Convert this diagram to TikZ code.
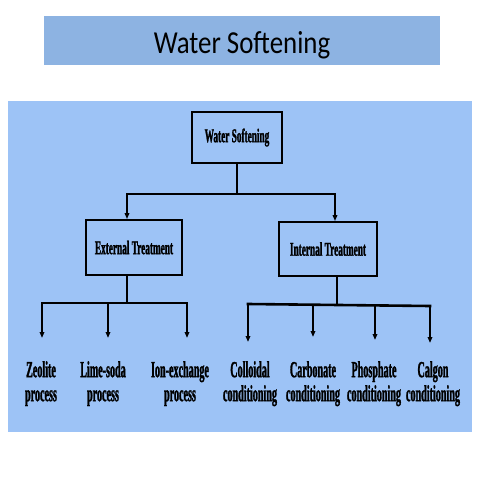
\documentclass[tikz,border=0pt]{standalone}
\usepackage{fontspec}
\usetikzlibrary{arrows.meta}
\newfontfamily\lblfont[FakeStretch=0.44,FakeBold=1.2]{Liberation Serif}
\newfontfamily\boxfont[FakeStretch=0.475,FakeBold=1.2]{Liberation Serif}
\newfontfamily\ttlfont[FakeStretch=0.84]{Carlito}
\definecolor{bannerblue}{HTML}{8DB3E2}
\definecolor{panelblue}{HTML}{9DC3F6}
\begin{document}
\begin{tikzpicture}[x=1pt,y=-1pt,
  banner/.style={fill=bannerblue, inner sep=0, minimum width=396pt, minimum height=49pt,
    text height=29pt, text depth=3pt, font=\ttlfont\fontsize{32}{32}\selectfont},
  box/.style={draw=black, line width=1.8pt, inner sep=0,
    font=\boxfont\bfseries\fontsize{19.5}{21}\selectfont},
  conn/.style={draw=black, line width=1.8pt},
  bar/.style={draw=black, line width=2.6pt, line cap=rect},
  arr/.style={draw=black, line width=1.6pt, -{Triangle[length=6pt,width=4.5pt]}},
  lbl/.style={inner sep=0, align=center, anchor=north,
    font=\lblfont\bfseries\fontsize{23}{24}\selectfont}]
\useasboundingbox (0,0) rectangle (480,480);
\fill[white] (0,0) rectangle (480,480);
% title banner
\node[banner] (title) at (242,40.5) {Water Softening};
% light blue panel
\fill[panelblue] (8,101) rectangle (472,432);
% boxes
\node[box, minimum width=90pt, minimum height=51pt] (top) at (237,137.5) {Water Softening};
\node[box, minimum width=96pt, minimum height=55pt] (ext) at (134,247.5) {External Treatment};
\node[box, minimum width=98pt, minimum height=54pt] (int) at (328,249) {Internal Treatment};
% top junctions
\coordinate (jT) at (237,194);
\coordinate (jL) at (127,194);
\coordinate (jR) at (335,194);
\draw[conn] (top) -- (jT);
\draw[bar] (jL) -- (jR);
\draw[arr] (jL) -- (jL |- ext.north);
\draw[arr] (jR) -- (jR |- int.north);
% external branch
\coordinate (eT) at (127,303);
\coordinate (e1) at (42,303);
\coordinate (e2) at (108,303);
\coordinate (e3) at (187,303);
\coordinate (t1) at (42,338);
\coordinate (t2) at (108,338);
\coordinate (t3) at (187,338);
\draw[conn] (ext.south -| eT) -- (eT);
\draw[bar] (e1) -- (e3);
\draw[arr] (e1) -- (t1);
\draw[arr] (e2) -- (t2);
\draw[arr] (e3) -- (t3);
% internal branch
\coordinate (iT) at (337,305);
\coordinate (i1) at (248,304);
\coordinate (i2) at (313,305);
\coordinate (i3) at (375,305);
\coordinate (i4) at (430,306);
\coordinate (u1) at (248,342);
\coordinate (u2) at (313,337);
\coordinate (u3) at (375,340);
\coordinate (u4) at (430,343);
\draw[conn] (int.south -| iT) -- (iT);
\draw[bar] (i1) -- (i4);
\draw[arr] (i1) -- (u1);
\draw[arr] (i2) -- (u2);
\draw[arr] (i3) -- (u3);
\draw[arr] (i4) -- (u4);
% labels
\node[lbl] (zeo) at (41,361) {Zeolite\\process};
\node[lbl] (lime) at (103,361) {Lime-soda\\process};
\node[lbl] (ion) at (180,361) {Ion-exchange\\process};
\node[lbl] (coll) at (250,361) {Colloidal\\conditioning};
\node[lbl] (carb) at (313,361) {Carbonate\\conditioning};
\node[lbl] (phos) at (374,361) {Phosphate\\conditioning};
\node[lbl] (calg) at (433,361) {Calgon\\conditioning};
\end{tikzpicture}
\end{document}
